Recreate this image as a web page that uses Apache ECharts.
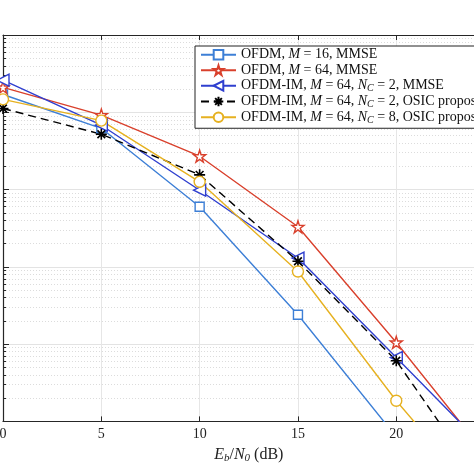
<!DOCTYPE html>
<html>
<head>
<meta charset="utf-8">
<script src="https://cdn.jsdelivr.net/npm/echarts@6/dist/echarts.min.js"></script>
<style>
  html, body { margin: 0; padding: 0; background: #fff; }
  #chart { width: 474px; height: 474px; }
</style>
</head>
<body>
<div id="chart"></div>
<script>
// Eb/N0 in dB
var snr = [0, 5, 10, 15, 20, 25];
// BER values
var ofdm16 = [0.17, 0.062, 0.006, 0.00024, 0.0000063];
var ofdm64 = [0.21, 0.092, 0.027, 0.0033, 0.000105, 0.0000027];
var ofdmIm2 = [0.26, 0.068, 0.0098, 0.0013, 0.000067, 0.0000034];
var osic2 = [0.112, 0.052, 0.0155, 0.00118, 0.000061, 0.0000009];
var osic8 = [0.147, 0.078, 0.0126, 0.00087, 0.0000185, 0.0000006];
var xTicks = [0, 5, 10, 15, 20];
var names = [
  'OFDM, M = 16, MMSE',
  'OFDM, M = 64, MMSE',
  'OFDM-IM, M = 64, NC = 2, MMSE',
  'OFDM-IM, M = 64, NC = 2, OSIC proposed',
  'OFDM-IM, M = 64, NC = 8, OSIC proposed'
];
var legendRich = [
  '{r|OFDM, }{i|M}{r| = 16, MMSE}',
  '{r|OFDM, }{i|M}{r| = 64, MMSE}',
  '{r|OFDM-IM, }{i|M}{r| = 64, }{i|N}{s|C}{r| = 2, MMSE}',
  '{r|OFDM-IM, }{i|M}{r| = 64, }{i|N}{s|C}{r| = 2, OSIC proposed}',
  '{r|OFDM-IM, }{i|M}{r| = 64, }{i|N}{s|C}{r| = 8, OSIC proposed}'
];

var serif = '"Liberation Serif", "DejaVu Serif", serif';
var starPath = 'path://M50,0L61.23,34.55L97.55,34.55L68.17,55.9L79.39,90.45L50,69.1L20.61,90.45L31.83,55.9L2.45,34.55L38.77,34.55Z';
var asterisk = 'path://M0,50L100,50M50,0L50,100M15,15L85,85M85,15L15,85';

function pairs(ys) {
  return ys.map(function (v, i) { return [snr[i], v]; });
}

function mkSeries(name, ys, color, symbol, size, extra) {
  var s = {
    name: name,
    type: 'line',
    data: pairs(ys),
    symbol: symbol,
    symbolSize: size,
    showAllSymbol: true,
    clip: true,
    lineStyle: { color: color, width: 1.4 },
    itemStyle: { color: '#fff', borderColor: color, borderWidth: 1.4 },
    emphasis: { disabled: true },
    animation: false,
    z: 3
  };
  for (var k in extra) s[k] = extra[k];
  return s;
}

var chart = echarts.init(document.getElementById('chart'));

var series = [
  mkSeries(names[0], ofdm16, '#3d7fd6', 'rect', 9, {}),
  mkSeries(names[1], ofdm64, '#d9402c', starPath, 12, {}),
  mkSeries(names[2], ofdmIm2, '#2f3fcf', 'triangle', 12, { symbolRotate: 90 }),
  mkSeries(names[3], osic2, '#000', asterisk, 11, {
    lineStyle: { color: '#000', width: 1.4, type: [8, 5] },
    itemStyle: { color: '#000', borderColor: '#000', borderWidth: 1.6 }
  }),
  mkSeries(names[4], osic8, '#e6b120', 'circle', 11, {})
];

var option = {
  backgroundColor: '#fff',
  animation: false,
  // plot box runs past the right edge of the picture (cropped)
  grid: { left: 3, top: 35, width: 491.6, height: 386.4, containLabel: false, outerBoundsMode: 'none' },
  legend: {
    orient: 'vertical',
    left: 195,
    top: 46,
    data: names,
    itemWidth: 35,
    itemHeight: 12,
    itemGap: 0,
    padding: [1, 6, 3, 5],
    borderColor: '#222',
    borderWidth: 1,
    backgroundColor: '#fff',
    selectedMode: false,
    formatter: function (n) { return legendRich[names.indexOf(n)]; },
    textStyle: {
      fontFamily: serif,
      fontSize: 14,
      color: '#111',
      lineHeight: 15.5,
      rich: {
        r: { fontFamily: serif, fontSize: 14, color: '#111' },
        i: { fontFamily: serif, fontSize: 14, fontStyle: 'italic', color: '#111' },
        s: { fontFamily: serif, fontSize: 10, fontStyle: 'italic', color: '#111', padding: [6, 0, 0, 0] }
      }
    }
  },
  xAxis: [{
    type: 'value',
    min: 0,
    max: 25,
    interval: 5,
    position: 'bottom',
    name: '{i|E}{s|b}{r|/}{i|N}{s|0}{r| (dB)}',
    nameLocation: 'middle',
    nameGap: 22,
    nameTextStyle: {
      rich: {
        r: { fontFamily: serif, fontSize: 16, color: '#222' },
        i: { fontFamily: serif, fontSize: 16, fontStyle: 'italic', color: '#222' },
        s: { fontFamily: serif, fontSize: 11, fontStyle: 'italic', color: '#222', padding: [7, 0, 0, 0] }
      }
    },
    axisLine: { onZero: false, lineStyle: { color: '#262626', width: 1.2 } },
    axisTick: { inside: true, length: 5, lineStyle: { color: '#262626' } },
    axisLabel: {
      fontFamily: serif, fontSize: 14, color: '#222', margin: 6,
      formatter: function (v) { return xTicks.indexOf(v) >= 0 ? String(v) : ''; }
    },
    splitLine: { show: true, lineStyle: { color: '#e6e6e6', width: 1 } }
  }, {
    type: 'value',
    min: 0,
    max: 25,
    interval: 5,
    position: 'top',
    axisLine: { onZero: false, lineStyle: { color: '#262626', width: 1.2 } },
    axisTick: { inside: true, length: 5, lineStyle: { color: '#262626' } },
    axisLabel: { show: false },
    splitLine: { show: false }
  }],
  yAxis: {
    type: 'log',
    logBase: 10,
    min: 1e-5,
    max: 1,
    axisLine: { onZero: false, lineStyle: { color: '#262626', width: 1.2 } },
    axisTick: { inside: true, length: 6, lineStyle: { color: '#262626' } },
    minorTick: { show: true, splitNumber: 9, length: 3, lineStyle: { color: '#262626' } },
    axisLabel: { show: false },
    splitLine: { show: true, lineStyle: { color: '#e3e3e3', width: 1 } },
    minorSplitLine: { show: true, lineStyle: { color: '#dcdcdc', width: 1, type: [1, 2] } }
  },
  series: series
};

chart.setOption(option);
</script>
</body>
</html>
